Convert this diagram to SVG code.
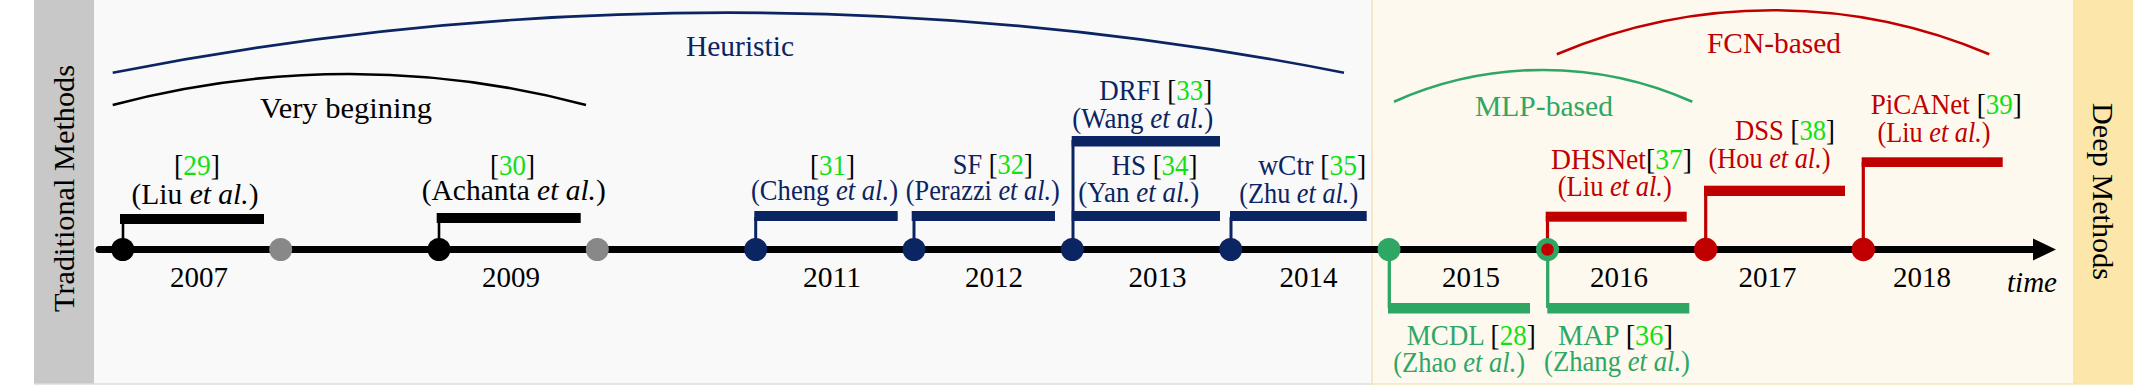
<svg xmlns="http://www.w3.org/2000/svg" width="2145" height="392" viewBox="0 0 2145 392">
<style>
.t{font-family:"Liberation Serif","Times New Roman",serif;font-size:30px;}
.k{fill:#000;}
.nv{fill:#0b2462;}
.gr{fill:#2ea765;}
.rd{fill:#c00000;}
.ref{fill:#12e012;}
.br{fill:#000;}
.i{font-style:italic;}
.arc{fill:none;stroke-width:2.6;}
.stemk{stroke:#000;stroke-width:2.6;}
.stemn{stroke:#0b2462;stroke-width:3;}
.stemg{stroke:#2ea765;stroke-width:3.3;}
.stemr{stroke:#c00000;stroke-width:3.2;}
</style>
<rect width="2145" height="392" fill="#ffffff"/>
<g id="backgrounds">
<rect x="34" y="0" width="60" height="384" fill="#c8c8c8"/>
<rect x="94" y="0" width="1278" height="384" fill="#f9f9f9"/>
<rect x="1372" y="0" width="701" height="384" fill="#fef9ef"/>
<rect x="2073" y="0" width="60" height="384" fill="#fce6a9"/>
<line x1="34" y1="384" x2="1372" y2="384" stroke="#dcdcdc" stroke-width="1.5"/>
<line x1="1372" y1="384" x2="2133" y2="384" stroke="#f6e4b4" stroke-width="1.5"/>
<line x1="1372" y1="0" x2="1372" y2="384" stroke="#f3e2ba" stroke-width="1.5"/>
<text class="t k" transform="translate(74,188.5) rotate(-90)" text-anchor="middle" textLength="247" lengthAdjust="spacingAndGlyphs">Traditional Methods</text>
<text class="t k" transform="translate(2093,191.5) rotate(90)" text-anchor="middle" textLength="177" lengthAdjust="spacingAndGlyphs">Deep Methods</text>
</g>
<g id="phases">
<path class="arc" stroke="#0b2462" d="M112.7,72.7 A3187,3187 0 0 1 1344,72.7"/>
<text class="t nv" x="740" y="56" text-anchor="middle" textLength="108" lengthAdjust="spacingAndGlyphs">Heuristic</text>
<path class="arc" stroke="#000" d="M112.7,105 A918,918 0 0 1 586,105"/>
<text class="t k" x="346" y="118" text-anchor="middle" textLength="172" lengthAdjust="spacingAndGlyphs">Very begining</text>
<path class="arc" stroke="#2ea765" d="M1394,101.7 A366,366 0 0 1 1692.3,101.7"/>
<text class="t gr" x="1544" y="116" text-anchor="middle" textLength="138" lengthAdjust="spacingAndGlyphs">MLP-based</text>
<path class="arc" stroke="#c00000" d="M1556.8,54.3 A553,553 0 0 1 1989.3,54.3"/>
<text class="t rd" x="1774" y="53" text-anchor="middle" textLength="134" lengthAdjust="spacingAndGlyphs">FCN-based</text>
</g>
<g id="connectors">
<line x1="99" y1="249.5" x2="2036" y2="249.5" stroke="#000" stroke-width="7" stroke-linecap="round"/>
<polygon points="2033,238.5 2056,249.5 2033,260.5" fill="#000"/>
<text class="t k i" x="2032" y="292" text-anchor="middle" textLength="50" lengthAdjust="spacingAndGlyphs">time</text>
</g>
<g id="years" class="t k" text-anchor="middle">
<text x="199" y="287" textLength="58" lengthAdjust="spacingAndGlyphs">2007</text>
<text x="511" y="287" textLength="58" lengthAdjust="spacingAndGlyphs">2009</text>
<text x="832" y="287" textLength="58" lengthAdjust="spacingAndGlyphs">2011</text>
<text x="994" y="287" textLength="58" lengthAdjust="spacingAndGlyphs">2012</text>
<text x="1157.5" y="287" textLength="58" lengthAdjust="spacingAndGlyphs">2013</text>
<text x="1308.5" y="287" textLength="58" lengthAdjust="spacingAndGlyphs">2014</text>
<text x="1471" y="287" textLength="58" lengthAdjust="spacingAndGlyphs">2015</text>
<text x="1619" y="287" textLength="58" lengthAdjust="spacingAndGlyphs">2016</text>
<text x="1767.5" y="287" textLength="58" lengthAdjust="spacingAndGlyphs">2017</text>
<text x="1922" y="287" textLength="58" lengthAdjust="spacingAndGlyphs">2018</text>
</g>
<g id="end-2007">
<circle cx="280.7" cy="249.5" r="11.5" fill="#888888"/>
</g>
<g id="end-2009">
<circle cx="597.3" cy="249.5" r="11.5" fill="#888888"/>
</g>
<g id="liu2007">
<line class="stemk" x1="123" y1="220" x2="123" y2="249"/>
<rect x="120" y="214" width="144" height="10" fill="#000"/>
<circle cx="122.7" cy="249.5" r="11.5" fill="#000"/>
<text class="t k" x="197" y="175" text-anchor="middle" textLength="46" lengthAdjust="spacingAndGlyphs">[<tspan class="ref">29</tspan>]</text>
<text class="t k" x="195" y="204" text-anchor="middle" textLength="127" lengthAdjust="spacingAndGlyphs">(Liu <tspan class="i">et al.</tspan>)</text>
</g>
<g id="achanta2009">
<line class="stemk" x1="439" y1="219" x2="439" y2="249"/>
<rect x="436.7" y="213" width="144" height="10" fill="#000"/>
<circle cx="439" cy="249.5" r="11.5" fill="#000"/>
<text class="t k" x="512.6" y="175" text-anchor="middle" textLength="45" lengthAdjust="spacingAndGlyphs">[<tspan class="ref">30</tspan>]</text>
<text class="t k" x="513.8" y="200" text-anchor="middle" textLength="184" lengthAdjust="spacingAndGlyphs">(Achanta <tspan class="i">et al.</tspan>)</text>
</g>
<g id="cheng2011">
<line class="stemn" x1="755.7" y1="217" x2="755.7" y2="249"/>
<rect x="754.3" y="211" width="143.4" height="10" fill="#0b2462"/>
<circle cx="755.7" cy="249.5" r="11.5" fill="#0b2462"/>
<text class="t k" x="832.5" y="175" text-anchor="middle" textLength="45" lengthAdjust="spacingAndGlyphs">[<tspan class="ref">31</tspan>]</text>
<text class="t nv" x="824.5" y="200" text-anchor="middle" textLength="147" lengthAdjust="spacingAndGlyphs">(Cheng <tspan class="i">et al.</tspan>)</text>
</g>
<g id="sf2012">
<line class="stemn" x1="914" y1="217" x2="914" y2="249"/>
<rect x="911.7" y="211" width="143.3" height="10" fill="#0b2462"/>
<circle cx="914" cy="249.5" r="11.5" fill="#0b2462"/>
<text class="t nv" x="992.8" y="174" text-anchor="middle" textLength="80" lengthAdjust="spacingAndGlyphs">SF <tspan class="br">[</tspan><tspan class="ref">32</tspan><tspan class="br">]</tspan></text>
<text class="t nv" x="982.8" y="200" text-anchor="middle" textLength="154" lengthAdjust="spacingAndGlyphs">(Perazzi <tspan class="i">et al.</tspan>)</text>
</g>
<g id="drfi-hs2013">
<line class="stemn" x1="1073" y1="140" x2="1073" y2="249"/>
<rect x="1071.7" y="136" width="148.3" height="10.5" fill="#0b2462"/>
<rect x="1071.7" y="211" width="148.3" height="10" fill="#0b2462"/>
<circle cx="1072.3" cy="249.5" r="11.5" fill="#0b2462"/>
<text class="t nv" x="1155.7" y="100" text-anchor="middle" textLength="113" lengthAdjust="spacingAndGlyphs">DRFI <tspan class="br">[</tspan><tspan class="ref">33</tspan><tspan class="br">]</tspan></text>
<text class="t nv" x="1142.8" y="127.5" text-anchor="middle" textLength="141" lengthAdjust="spacingAndGlyphs">(Wang <tspan class="i">et al.</tspan>)</text>
<text class="t nv" x="1154.5" y="175" text-anchor="middle" textLength="86" lengthAdjust="spacingAndGlyphs">HS <tspan class="br">[</tspan><tspan class="ref">34</tspan><tspan class="br">]</tspan></text>
<text class="t nv" x="1138.8" y="202" text-anchor="middle" textLength="121" lengthAdjust="spacingAndGlyphs">(Yan <tspan class="i">et al.</tspan>)</text>
</g>
<g id="wctr2014">
<line class="stemn" x1="1231" y1="217" x2="1231" y2="249"/>
<rect x="1230" y="211" width="136.7" height="10" fill="#0b2462"/>
<circle cx="1230.7" cy="249.5" r="11.5" fill="#0b2462"/>
<text class="t nv" x="1312.2" y="175" text-anchor="middle" textLength="108" lengthAdjust="spacingAndGlyphs">wCtr <tspan class="br">[</tspan><tspan class="ref">35</tspan><tspan class="br">]</tspan></text>
<text class="t nv" x="1298.7" y="202.5" text-anchor="middle" textLength="119" lengthAdjust="spacingAndGlyphs">(Zhu <tspan class="i">et al.</tspan>)</text>
</g>
<g id="mcdl2015">
<line class="stemg" x1="1389.3" y1="249" x2="1389.3" y2="308"/>
<rect x="1388" y="303" width="142" height="10.5" fill="#2ea765"/>
<circle cx="1389" cy="249.5" r="11.5" fill="#2ea765"/>
<text class="t gr" x="1471.2" y="345" text-anchor="middle" textLength="129" lengthAdjust="spacingAndGlyphs">MCDL <tspan class="br">[</tspan><tspan class="ref">28</tspan><tspan class="br">]</tspan></text>
<text class="t gr" x="1459.2" y="371.5" text-anchor="middle" textLength="132" lengthAdjust="spacingAndGlyphs">(Zhao <tspan class="i">et al.</tspan>)</text>
</g>
<g id="map-dhsnet2016">
<line class="stemg" x1="1547.7" y1="249" x2="1547.7" y2="308"/>
<rect x="1547.3" y="303" width="142" height="10.5" fill="#2ea765"/>
<line class="stemr" x1="1547.5" y1="216" x2="1547.5" y2="249"/>
<rect x="1545.7" y="211.7" width="141" height="10" fill="#c00000"/>
<circle cx="1547.5" cy="249.5" r="11.5" fill="#2ea765"/>
<circle cx="1547.5" cy="249.5" r="6.3" fill="#c00000"/>
<text class="t gr" x="1615.5" y="345" text-anchor="middle" textLength="115" lengthAdjust="spacingAndGlyphs">MAP <tspan class="br">[</tspan><tspan class="ref">36</tspan><tspan class="br">]</tspan></text>
<text class="t gr" x="1617" y="371" text-anchor="middle" textLength="146" lengthAdjust="spacingAndGlyphs">(Zhang <tspan class="i">et al.</tspan>)</text>
<text class="t rd" x="1621.5" y="168.5" text-anchor="middle" textLength="141" lengthAdjust="spacingAndGlyphs">DHSNet<tspan class="br">[</tspan><tspan class="ref">37</tspan><tspan class="br">]</tspan></text>
<text class="t rd" x="1614.8" y="195.5" text-anchor="middle" textLength="114" lengthAdjust="spacingAndGlyphs">(Liu <tspan class="i">et al.</tspan>)</text>
</g>
<g id="dss2017">
<line class="stemr" x1="1705.7" y1="190" x2="1705.7" y2="249"/>
<rect x="1704" y="185.7" width="141" height="10.3" fill="#c00000"/>
<circle cx="1705.7" cy="249.5" r="11.7" fill="#c00000"/>
<text class="t rd" x="1785" y="140" text-anchor="middle" textLength="100" lengthAdjust="spacingAndGlyphs">DSS <tspan class="br">[</tspan><tspan class="ref">38</tspan><tspan class="br">]</tspan></text>
<text class="t rd" x="1769.5" y="167.5" text-anchor="middle" textLength="122" lengthAdjust="spacingAndGlyphs">(Hou <tspan class="i">et al.</tspan>)</text>
</g>
<g id="picanet2018">
<line class="stemr" x1="1863.3" y1="162" x2="1863.3" y2="249"/>
<rect x="1861.7" y="157.3" width="141" height="9.7" fill="#c00000"/>
<circle cx="1863.3" cy="249.5" r="11.7" fill="#c00000"/>
<text class="t rd" x="1946.2" y="114" text-anchor="middle" textLength="151" lengthAdjust="spacingAndGlyphs">PiCANet <tspan class="br">[</tspan><tspan class="ref">39</tspan><tspan class="br">]</tspan></text>
<text class="t rd" x="1934" y="141.5" text-anchor="middle" textLength="113" lengthAdjust="spacingAndGlyphs">(Liu <tspan class="i">et al.</tspan>)</text>
</g>
</svg>
